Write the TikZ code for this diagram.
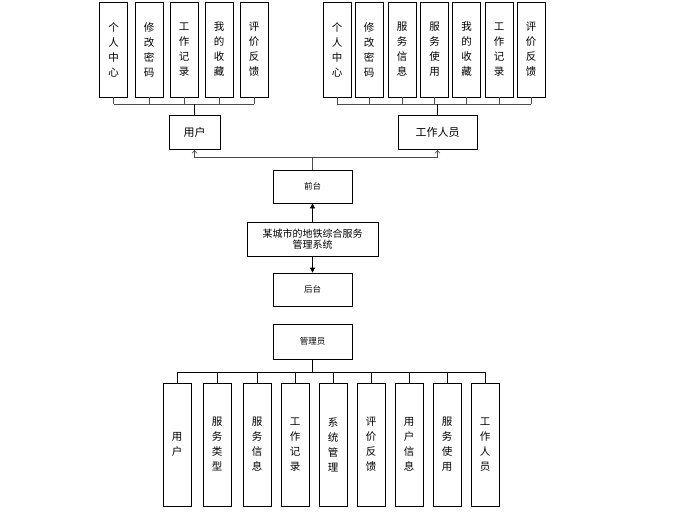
\documentclass[tikz,border=0pt]{standalone}
\usepackage{fontspec}
\setmainfont{Noto Sans CJK SC}
\usetikzlibrary{arrows.meta}
\begin{document}
\begin{tikzpicture}[x=1pt,y=-1pt,
  box/.style={draw,thick,inner sep=0pt,font=\fontsize{10.5}{15}\selectfont,align=center},
  vb/.style={box,minimum width=28pt,minimum height=#1},
  hb/.style={box,minimum width=#1,minimum height=34pt},
  ln/.style={draw=black!70,line width=0.6pt},
  arr/.style={ln,-{Straight Barb[length=3pt,width=5pt]}}]
\useasboundingbox (0,0) rectangle (673,514);
% top-left
\foreach \n/\x/\t in {a1/113.5/个\\人\\中\\心, a2/149/修\\改\\密\\码, a3/184/工\\作\\记\\录, a4/219/我\\的\\收\\藏, a5/254/评\\价\\反\\馈}
  \node[vb=95pt] (\n) at (\x,49.5) {\t};
\foreach \n/\x/\t in {b1/337/个\\人\\中\\心, b2/369/修\\改\\密\\码, b3/402/服\\务\\信\\息, b4/434.5/服\\务\\使\\用, b5/466.5/我\\的\\收\\藏, b6/499/工\\作\\记\\录, b7/531/评\\价\\反\\馈}
  \node[vb=95pt] (\n) at (\x,49.5) {\t};
\node[hb=51pt,font=\fontsize{11}{12}\selectfont] (user) at (194.5,132.5) {用户};
\node[hb=79pt,font=\fontsize{11}{12}\selectfont] (staff) at (437.5,132.5) {工作人员};
\node[hb=79pt,minimum height=33pt,font=\fontsize{8.5}{10}\selectfont] (front) at (312.5,186.5) {前台};
\node[hb=131pt,font=\fontsize{10}{11.5}\selectfont] (sys) at (312.5,239) {某城市的地铁综合服务\\管理系统};
\node[hb=79pt,minimum height=33pt,font=\fontsize{8.5}{10}\selectfont] (back) at (312.5,289.5) {后台};
\node[hb=79pt,minimum height=35pt,font=\fontsize{8.5}{10}\selectfont] (admin) at (312.5,341.5) {管理员};
\foreach \n/\x/\t in {c1/177/用\\户, c2/217/服\\务\\类\\型, c3/257/服\\务\\信\\息, c4/295/工\\作\\记\\录, c5/333/系\\统\\管\\理, c6/371/评\\价\\反\\馈, c7/409/用\\户\\信\\息, c8/447/服\\务\\使\\用, c9/485/工\\作\\人\\员}
  \node[vb=123pt] (\n) at (\x,444.5) {\t};
% top buses
\foreach \n in {a1,a2,a3,a4,a5} \draw[ln] (\n.south) -- ++(0,7);
\draw[ln] ([yshift=-7pt]a1.south) -- ([yshift=-7pt]a5.south);
\draw[line width=1.2pt] (user.north) -- ++(0,-11);
\foreach \n in {b1,b2,b3,b4,b5,b6,b7} \draw[ln] (\n.south) -- ++(0,7);
\draw[ln] ([yshift=-7pt]b1.south) -- ([yshift=-7pt]b7.south);
\draw[line width=1.2pt] (staff.north) -- ++(0,-11);
% front arrows
\coordinate (fj) at (front.north |- 0,157);
\draw[ln] (front.north) -- (fj);
\draw[arr] (fj) -| (user.south);
\draw[arr] (fj) -| (staff.south);
\draw[thick,-{Triangle[length=5pt,width=5pt]}] (sys) -- (front);
\draw[thick,-{Triangle[length=5pt,width=5pt]}] (sys) -- (back);
% bottom bus
\coordinate (aj) at (admin.south |- 0,372);
\draw[thick] (admin.south) -- (aj);
\draw[thick] (c1.north |- aj) -- (c9.north |- aj);
\foreach \n in {c1,c2,c3,c4,c5,c6,c7,c8,c9} \draw[thick] (\n.north) -- (\n.north |- aj);
\end{tikzpicture}
\end{document}
